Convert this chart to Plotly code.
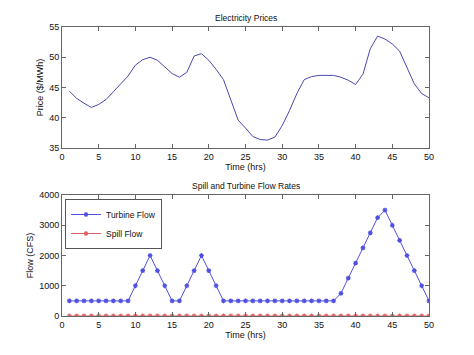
import plotly.graph_objects as go
from plotly.subplots import make_subplots

hours = list(range(1, 51))
price = [44.4, 43.2, 42.4, 41.7, 42.2, 43.0, 44.3, 45.6, 46.9, 48.7,
         49.6, 50.0, 49.5, 48.4, 47.3, 46.7, 47.5, 50.2, 50.6, 49.5,
         48.0, 46.3, 43.0, 39.6, 38.3, 36.9, 36.4, 36.3, 36.8, 38.7,
         41.2, 44.0, 46.3, 46.8, 47.0, 47.0, 47.0, 46.7, 46.2, 45.5,
         47.2, 51.4, 53.5, 53.0, 52.2, 51.0, 48.4, 45.6, 44.0, 43.3]
turbine = [500]*9 + [1000, 1500, 2000, 1500, 1000, 500, 500, 1000, 1500, 2000,
           1500, 1000] + [500]*16 + [750, 1250, 1750, 2250, 2750, 3250, 3500,
           3000, 2500, 2000, 1500, 1000, 500]
spill = [0]*50

fig = make_subplots(rows=2, cols=1, vertical_spacing=0.0)

fig.add_trace(go.Scatter(x=hours, y=price, mode="lines",
                         line=dict(color="#4848b0", width=1), showlegend=False),
              row=1, col=1)
fig.add_trace(go.Scatter(x=hours, y=turbine, mode="lines+markers", name="Turbine Flow",
                         line=dict(color="#5050e0", width=1),
                         marker=dict(symbol="asterisk-open", size=4,
                                     line=dict(color="#2020c8", width=1.2))),
              row=2, col=1)
fig.add_trace(go.Scatter(x=hours, y=spill, mode="lines+markers", name="Spill Flow",
                         line=dict(color="#e06060", width=1),
                         marker=dict(symbol="asterisk-open", size=4,
                                     line=dict(color="#d02020", width=1.2))),
              row=2, col=1)

OFF = 8  # page body margin
W, H = 474 - OFF, 355 - OFF
L, R = 62 - OFF, 429 - OFF
FS = 8.5
def fy(a, b):
    return [1 - (b - OFF) / H, 1 - (a - OFF) / H]

axis_common = dict(showline=True, linecolor="#666666", linewidth=1, mirror="ticks",
                   ticks="inside", ticklen=4, tickcolor="#666666", showgrid=False,
                   zeroline=False, automargin=False,
                   tickfont=dict(size=FS + 0.5, color="#111111"),
                   title_font=dict(size=FS + 0.5, color="#111111"))

fig.update_layout(
    width=W, height=H,
    margin=dict(l=0, r=0, t=0, b=0),
    paper_bgcolor="white", plot_bgcolor="white",
    font=dict(family="Liberation Sans, Arial, sans-serif", size=FS, color="#111111"),
    xaxis=dict(domain=[L / W, R / W], range=[0, 50], dtick=5,
               title=dict(text="Time (hrs)", standoff=2), **axis_common),
    yaxis=dict(domain=fy(27, 148), range=[35, 55], dtick=5,
               title=dict(text="Price ($/MWh)", standoff=4), **axis_common),
    xaxis2=dict(domain=[L / W, R / W], range=[0, 50], dtick=5,
                title=dict(text="Time (hrs)", standoff=2), **axis_common),
    yaxis2=dict(domain=fy(195, 316), range=[0, 4000], dtick=1000,
                title=dict(text="Flow (CFS)", standoff=4), **axis_common),
    legend=dict(x=(65 - OFF) / W, y=1 - (199 - OFF) / H, xanchor="left", yanchor="top",
                bgcolor="white", bordercolor="#555555", borderwidth=1,
                font=dict(size=FS), tracegroupgap=0, itemwidth=30),
    annotations=[
        dict(text="Electricity Prices", x=(L + R) / 2 / W, y=1 - (18 - OFF) / H,
             xref="paper", yref="paper", showarrow=False, font=dict(size=FS),
             xanchor="center", yanchor="middle"),
        dict(text="Spill and Turbine Flow Rates", x=(L + R) / 2 / W,
             y=1 - (186 - OFF) / H, xref="paper", yref="paper", showarrow=False,
             font=dict(size=FS), xanchor="center", yanchor="middle"),
    ],
)

fig.write_html("out.html")
